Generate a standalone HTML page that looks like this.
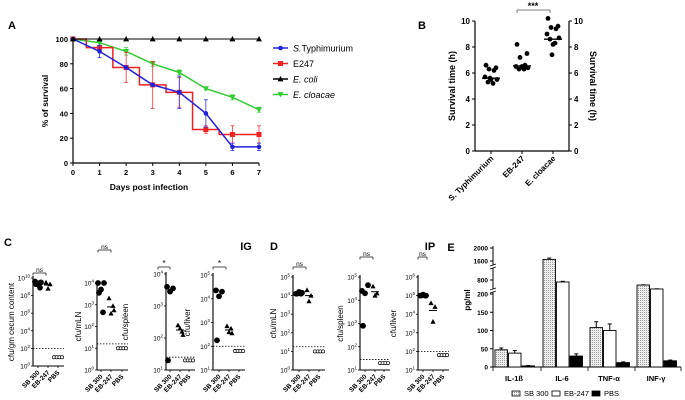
<!DOCTYPE html>
<html><head><meta charset="utf-8"><style>
html,body{margin:0;padding:0;background:#fff}
svg{display:block;font-family:"Liberation Sans",Arial,sans-serif}
</style></head><body>
<svg id="s" width="685" height="400" viewBox="0 0 685 400">
<defs><pattern id="dots" width="2" height="2" patternUnits="userSpaceOnUse"><rect width="2" height="2" fill="#eee"/><rect width="1" height="1" fill="#999"/></pattern></defs>
</svg>
<script>
// ===== Panel A data =====
const daysA=[0,1,2,3,4,5,6,7];
const styphA=[100,90,77,63,57,40,13,13];
const styphErr=[0,5,0,0,13,11,3,3];
const e247A=[100,93,77,63,57,27,23,23];
const e247Err=[0,0,12,19,12,3,7,7];
const ecoliA=[100,100,100,100,100,100,100,100];
const ecloA=[100,97,90,80,73,60,53,43];
const ecloErr=[0,2,3,2,2,1,2,2];
const ticksA=[0,20,40,60,80,100];
// ===== Panel B data =====
const catsB=["S. Typhimurium","EB-247","E. cloacae"];
const bTyph=[6.6,6.4,6.3,6.2,5.7,5.5,5.3,5.2,5.5,5.6];
const bEB=[8.2,7.5,7.2,6.6,6.5,6.4,6.3,6.3,6.5];
const bEcl=[10.2,9.6,9.5,9.4,9.0,8.7,8.6,8.3,8.2,7.4];
const bMeans=[5.6,6.55,8.6];
const ticksB=[0,2,4,6,8,10];
// ===== Panel C/D data (log10 cfu) =====
const catsCD=["SB 300","EB-247","PBS"];
const c1SB=[9.6,9.5,9.4,9.3,8.9], c1EB=[9.5,9.3,8.8], c1PBS=[1,1,1,1], c1Lim=2;
const c2SB=[4.0,4.0,3.7,3.55,2.65], c2EB=[3.3,2.95,2.6,2.75], c2PBS=[1,1,1,1], c2Lim=1.2;
const c3SB=[3.6,3.55,3.45,1.3], c3EB=[2.4,2.2,2.3,2.1], c3PBS=[1.3,1.3,1.3,1.3], c3Lim=1.4;
const c4SB=[4.35,4.3,4.1,2.25], c4EB=[2.85,2.75,2.6,2.55], c4PBS=[1.8,1.8,1.8,1.8], c4Lim=2.0;
const d1SB=[4.1,4.15,4.2,4.1,4.1], d1EB=[4.3,4.0,3.7], d1PBS=[1,1,1,1], d1Lim=1.25;
const d2SB=[4.4,4.65,4.3,2.9], d2EB=[4.6,4.3,4.2], d2PBS=[1.3,1.3,1.3,1.3], d2Lim=1.45;
const d3SB=[5.0,5.0,5.05,5.0,5.0], d3EB=[4.6,4.4,3.6], d3PBS=[1.8,1.8,1.8,1.8], d3Lim=2.0;
// ===== Panel E data =====
const catsE=["IL-1ß","IL-6","TNF-α","INF-γ"];
const eSB=[47,1650,108,585];
const eEB=[38,715,100,415];
const ePBS=[3,30,12,17];
const eSBerr=[5,40,16,10];
const eEBerr=[7,30,18,8];
const ePBSerr=[1,6,2,2];
const ticksE=[0,50,100,150,200,800,1600,2000];

const S=document.getElementById('s');const NS='http://www.w3.org/2000/svg';
function el(tag,attrs,name,parent){const e=document.createElementNS(NS,tag);for(const k in attrs)e.setAttribute(k,attrs[k]);


(parent||S).appendChild(e);return e;}
function ln(x1,y1,x2,y2,c,w,name,dash){const a={x1,y1,x2,y2,stroke:c||'#000','stroke-width':w||1};if(dash)a['stroke-dasharray']=dash;return el('line',a,name||'line');}
function tx(x,y,s,sz,name,opt){opt=opt||{};const a={x,y,'font-size':sz,'text-anchor':opt.a||'middle',fill:opt.f||'#000'};if(opt.b)a['font-weight']='bold';if(opt.i)a['font-style']='italic';if(opt.r!==undefined)a.transform='rotate('+opt.r+' '+x+' '+y+')';const t=el('text',a,name||'label');t.textContent=s;return t;}
function tri(x,y,r,c,name,down){const p=down?[[x-r,y-r*0.8],[x+r,y-r*0.8],[x,y+r]]:[[x-r,y+r*0.8],[x+r,y+r*0.8],[x,y-r]];return el('polygon',{points:p.map(q=>q.join(',')).join(' '),fill:c},name);}

// panel letters
tx(12,29,'A',11,'panel-a-letter',{b:1});tx(422,29,'B',11,'panel-b-letter',{b:1});
tx(8,246,'C',11,'panel-c-letter',{b:1});tx(246,250,'IG',11,'ig-label',{b:1});
tx(274,250,'D',11,'panel-d-letter',{b:1});tx(430,250,'IP',11,'ip-label',{b:1});tx(451,251,'E',11,'panel-e-letter',{b:1});

// ===== Panel A =====
const ax0=73,ax1=259,ay0=163,ay1=39;
const xA=d=>ax0+(d/7)*(ax1-ax0), yA=v=>ay0-(v/100)*(ay0-ay1);
ln(ax0,ay1-2,ax0,ay0,'#000',1.2,'a-y-axis');ln(ax0,ay0,ax1,ay0,'#000',1.2,'a-x-axis');
ticksA.forEach(t=>{ln(ax0-3,yA(t),ax0,yA(t),'#000',1,'a-y-tick');tx(ax0-5,yA(t)+3,String(t),7.5,'a-y-tick-label',{a:'end',b:1});});
daysA.forEach(d=>{ln(xA(d),ay0,xA(d),ay0+3,'#000',1,'a-x-tick');tx(xA(d),ay0+12,String(d),7.5,'a-x-tick-label',{b:1});});
tx(149,190,'Days post infection',8.5,'a-x-axis-title',{b:1});
tx(48,101,'% of survival',8.5,'a-y-axis-title',{b:1,r:-90});
function errs(vals,er,c,name){vals.forEach((v,i)=>{if(er[i]){ln(xA(daysA[i]),yA(v-er[i]),xA(daysA[i]),yA(v+er[i]),c,0.8,name);ln(xA(daysA[i])-2,yA(v+er[i]),xA(daysA[i])+2,yA(v+er[i]),c,0.8,name);ln(xA(daysA[i])-2,yA(v-er[i]),xA(daysA[i])+2,yA(v-er[i]),c,0.8,name);}});}
errs(ecloA,ecloErr,'#33cc33','eclo-error');
el('polyline',{points:daysA.map((d,i)=>xA(d)+','+yA(ecloA[i])).join(' '),fill:'none',stroke:'#33cc33','stroke-width':1.5},'eclo-line');
daysA.forEach((d,i)=>tri(xA(d),yA(ecloA[i]),3,'#33cc33','eclo-point',true));
errs(e247A,e247Err,'#ee3333','e247-error');
let rp=[];daysA.forEach((d,i)=>{const l=Math.max(0,d-0.5),r=Math.min(7,d+0.5);rp.push(xA(l)+','+yA(e247A[i]));rp.push(xA(r)+','+yA(e247A[i]));});
el('polyline',{points:rp.join(' '),fill:'none',stroke:'#ee2222','stroke-width':1.5},'e247-line');
daysA.forEach((d,i)=>el('rect',{x:xA(d)-2.5,y:yA(e247A[i])-2.5,width:5,height:5,fill:'#ee2222'},'e247-point'));
errs(styphA,styphErr,'#3333dd','styph-error');
el('polyline',{points:daysA.map((d,i)=>xA(d)+','+yA(styphA[i])).join(' '),fill:'none',stroke:'#2222dd','stroke-width':1.5},'styph-line');
daysA.forEach((d,i)=>el('circle',{cx:xA(d),cy:yA(styphA[i]),r:2.3,fill:'#2222dd'},'styph-point'));
el('polyline',{points:daysA.map((d,i)=>xA(d)+','+yA(ecoliA[i])).join(' '),fill:'none',stroke:'#000','stroke-width':1},'ecoli-line');
daysA.forEach((d,i)=>tri(xA(d),yA(ecoliA[i]),3,'#000','ecoli-point'));
const lg=[['S.','Typhimurium','#2222dd','c'],['E247','','#ee2222','s'],['E. coli','','#000','t'],['E. cloacae','','#33cc33','v']];
lg.forEach((L,i)=>{const y=48+i*15.5;ln(273,y,288,y,L[2],1.5,'legend-line');
if(L[3]=='c')el('circle',{cx:280.5,cy:y,r:2.3,fill:L[2]},'legend-marker');else if(L[3]=='s')el('rect',{x:278,y:y-2.5,width:5,height:5,fill:L[2]},'legend-marker');else tri(280.5,y,3,L[2],'legend-marker',L[3]=='v');
const t=tx(293,y+3.5,'',9,'legend-entry',{a:'start'});
if(i==0){const a=document.createElementNS(NS,'tspan');a.setAttribute('font-style','italic');a.textContent='S.';t.appendChild(a);const b=document.createElementNS(NS,'tspan');b.textContent='Typhimurium';t.appendChild(b);}
else if(i==1)t.textContent='E247';else{t.setAttribute('font-style','italic');t.textContent=L[0];}});

// ===== Panel B =====
const bx0=475,bx1=569,by0=151,by1=21;
const yB=v=>by0-(v/10)*(by0-by1);const catX=[491,522,553];
ln(bx0,by1,bx0,by0,'#000',1.2,'b-left-axis');ln(bx1,by1,bx1,by0,'#000',1.2,'b-right-axis');ln(bx0,by0,bx1,by0,'#000',1.2,'b-x-axis');
ticksB.forEach(t=>{ln(bx0-3,yB(t),bx0,yB(t),'#000',1,'b-tick');ln(bx1,yB(t),bx1+3,yB(t),'#000',1,'b-tick');
tx(bx0-5,yB(t)+3,String(t),8,'b-left-tick-label',{a:'end',b:1});tx(bx1+5,yB(t)+3,String(t),8,'b-right-tick-label',{a:'start',b:1});});
tx(455,86,'Survival time (h)',9,'b-y-axis-title',{b:1,r:-90});tx(590,86,'Survival time (h)',9,'b-right-axis-title',{b:1,r:90});
const jit=[-5,5,-2,3,-6,6,-3,2,0,-1];
[bTyph,bEB,bEcl].forEach((arr,g)=>{ln(catX[g],by0,catX[g],by0+3,'#000',1,'b-x-tick');
arr.forEach((v,i)=>el('circle',{cx:catX[g]+jit[i%10],cy:yB(v),r:2.4,fill:'#000'},'b-point'));
ln(catX[g]-9,yB(bMeans[g]),catX[g]+9,yB(bMeans[g]),'#000',1.3,'b-mean-line');
tx(catX[g]+3,by0+8,catsB[g],8,'b-x-tick-label',{a:'end',b:1,r:-45});});
ln(517,10,550,10,'#555',0.8,'sig-bracket');ln(517,10,517,13,'#555',0.8,'sig-bracket');ln(550,10,550,13,'#555',0.8,'sig-bracket');
tx(533,9,'***',9,'sig-stars',{b:1});

// ===== Panels C/D log scatter =====
function logPanel(ax,yTop,yBot,dTop,dBot,cx,sb,eb,pbs,lim,yl,ylx,br,sig,pre){
 const yv=v=>yBot-(v-dBot)/(dTop-dBot)*(yBot-yTop);
 ln(ax,yTop-2,ax,yBot,'#000',1.1,pre+'-y-axis');ln(ax,yBot,cx[2]+6,yBot,'#000',1.1,pre+'-x-axis');
 const step=(dTop-dBot)>6?2:1;
 for(let d=dBot;d<=dTop;d+=step){ln(ax-2,yv(d),ax,yv(d),'#000',0.8,pre+'-y-tick');
  const t=tx(ax-3,yv(d)+2.5,'10',6.5,pre+'-y-tick-label',{a:'end'});const s=document.createElementNS(NS,'tspan');s.setAttribute('dy','-3');s.setAttribute('font-size','4.5');s.textContent=String(d);t.appendChild(s);}
 cx.forEach((x,i)=>{ln(x,yBot,x,yBot+2,'#000',0.8,pre+'-x-tick');tx(x+2,yBot+7,catsCD[i],6.5,pre+'-x-tick-label',{a:'end',b:1,r:-45});});
 ln(ax,yv(lim),cx[2]+6,yv(lim),'#000',0.8,pre+'-detection-limit','1.5,1.5');
 sb.forEach((v,i)=>el('circle',{cx:cx[0]+[-3,3,0,-2,2][i%5],cy:yv(v),r:2.9,fill:'#000'},pre+'-sb300-point'));
 eb.forEach((v,i)=>tri(cx[1]+[-2,2,0,3][i%4],yv(v),2.6,'#000',pre+'-eb247-point'));
 pbs.forEach((v,i)=>el('circle',{cx:cx[2]-4+i*2.7,cy:yv(v),r:1.6,fill:'#fff',stroke:'#000','stroke-width':0.7},pre+'-pbs-point'));
 const m=eb.reduce((a,b)=>a+b,0)/eb.length;ln(cx[1]-4,yv(m),cx[1]+4,yv(m),'#000',1,pre+'-eb247-mean');
 tx(ylx,(yTop+yBot)/2,yl,8,pre+'-y-axis-title',{r:-90});
 ln(br[0],br[2],br[1],br[2],'#222',0.8,pre+'-bracket');ln(br[0],br[2],br[0],br[2]+2.5,'#222',0.8,pre+'-bracket');ln(br[1],br[2],br[1],br[2]+2.5,'#222',0.8,pre+'-bracket');
 tx((br[0]+br[1])/2,br[2]-1,sig,sig=='*'?8:6.5,pre+'-significance');
}
logPanel(33,278,366,10,0,[38,48,58],c1SB,c1EB,c1PBS,c1Lim,'cfu/gm cecum content',14,[33,46,273],'ns','c-cecum');
logPanel(97,283,370,4,0,[101,111,122],c2SB,c2EB,c2PBS,c2Lim,'cfu/mLN',81,[98,111,250],'ns','c-mln');
logPanel(166,274,370,4,1,[170,180,189],c3SB,c3EB,c3PBS,c3Lim,'cfu/spleen',128,[158,170,267],'*','c-spleen');
logPanel(213,275,370,5,1,[219,229,239],c4SB,c4EB,c4PBS,c4Lim,'cfu/liver',190,[213,226,267],'*','c-liver');
logPanel(293,277,370,5,0,[299,309,319],d1SB,d1EB,d1PBS,d1Lim,'cfu/mLN',276,[293,306,267],'ns','d-mln');
logPanel(360,277,370,5,1,[365,375,384],d2SB,d2EB,d2PBS,d2Lim,'cfu/spleen',343,[360,373,257],'ns','d-spleen');
logPanel(418,277,370,6,1,[423,433,443],d3SB,d3EB,d3PBS,d3Lim,'cfu/liver',396,[418,427,257],'ns','d-liver');

// ===== Panel E =====
const ex=493,eyB=367;
function yE(v){if(v<=200)return 367-v*0.365;if(v<=800)return 294-(v-200)/600*14;if(v<=1600)return 280-(v-800)/800*19;return 261-(v-1600)/400*13;}
ln(ex,246,ex,eyB,'#000',1,'e-y-axis');ln(ex,eyB,681,eyB,'#000',1,'e-x-axis');
ticksE.forEach(t=>{ln(ex-3,yE(t),ex,yE(t),'#000',1,'e-y-tick');tx(ex-5,yE(t)+2.5,String(t),6.5,'e-y-tick-label',{a:'end',b:1});});
[[289,292],[265,268]].forEach(b=>{el('rect',{x:ex-4,y:b[0],width:8,height:b[1]-b[0],fill:'#fff'},'e-axis-break');ln(ex-3,b[0]+1,ex+3,b[0]-1,'#000',0.8,'e-axis-break');ln(ex-3,b[1]+1,ex+3,b[1]-1,'#000',0.8,'e-axis-break');});
tx(470,300,'pg/ml',8,'e-y-axis-title',{b:1,r:-90});
const gx=[495,543,590,637],bw=12.5;
catsE.forEach((c,g)=>{
 [[eSB,eSBerr,'url(#dots)','sb300'],[eEB,eEBerr,'#fff','eb247'],[ePBS,ePBSerr,'#000','pbs']].forEach((S2,k)=>{
  const x=gx[g]+k*(bw+1),v=S2[0][g],top=yE(v);
  const ye=yE(v+S2[1][g]);ln(x+bw/2,top,x+bw/2,ye,'#000',1,'e-error-bar');ln(x+bw/2-2,ye,x+bw/2+2,ye,'#000',1,'e-error-cap');
  el('rect',{x,y:top,width:bw,height:eyB-top,fill:S2[2],stroke:'#000','stroke-width':0.9},'e-bar-'+S2[3]+'-'+g);
 });
 tx(gx[g]+19,381,c,7.5,'e-x-tick-label',{b:1});
 ln(gx[g]-2,eyB,gx[g]-2,eyB+4,'#000',0.8,'e-group-tick');
});
ln(681,eyB,681,eyB+4,'#000',0.8,'e-group-tick');
[[512,'url(#dots)','SB 300'],[552,'#fff','EB-247'],[592,'#000','PBS']].forEach(L=>{
 el('rect',{x:L[0],y:391,width:8,height:5,fill:L[1],stroke:'#000','stroke-width':0.8},'e-legend-swatch');
 tx(L[0]+12,396,L[2],7.5,'e-legend-entry',{a:'start'});});
</script>
</body></html>
